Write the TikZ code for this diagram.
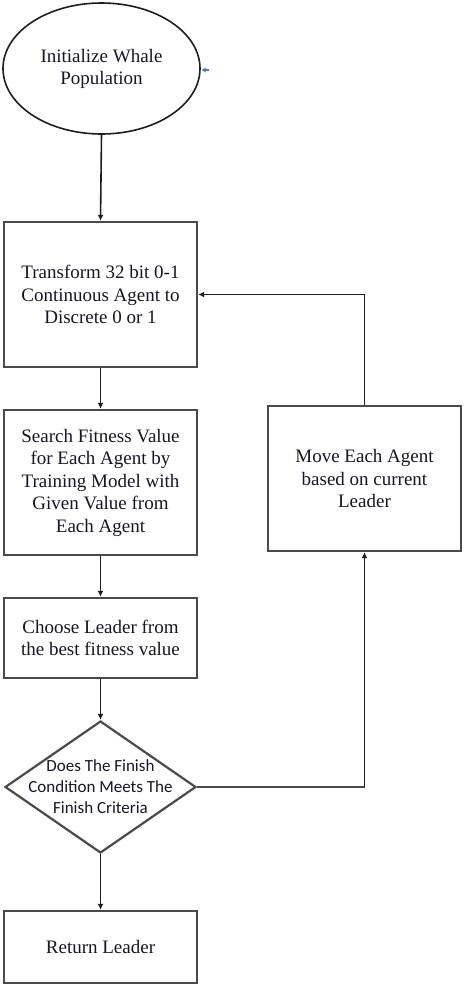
\documentclass[tikz,border=0pt]{standalone}
\usepackage{fontspec}
\setmainfont{Liberation Serif}
\newfontfamily\boxfont{Liberation Serif}
\newfontfamily\diafont{Carlito}
\usetikzlibrary{shapes.geometric,arrows.meta}
\definecolor{linegray}{HTML}{4A4A4A}
\definecolor{conn}{HTML}{1E1E1E}
\definecolor{txt}{HTML}{161628}
\definecolor{markblue}{HTML}{4A78C8}
\tikzset{
  box/.style={draw=linegray, line width=2.4pt, minimum width=193pt, align=center, inner sep=0pt, text=txt,
    font=\boxfont\fontsize{19}{22.5}\selectfont},
  arr/.style={draw=conn, line width=1.6pt, -{Latex[length=6pt,width=6pt]}},
}
\begin{document}
\begin{tikzpicture}[x=1pt,y=-1pt]
\useasboundingbox[fill=white] (0,0) rectangle (464,986);
\node[ellipse, draw=conn, line width=1.6pt, minimum width=197pt, minimum height=131pt, inner sep=0pt,
  align=center, text=txt, font=\boxfont\fontsize{19}{22}\selectfont] (init) at (101.5,68.5) {Initialize Whale\\Population};
\node[box, minimum height=145pt] (trans) at (100.5,294.5) {Transform 32 bit 0-1\\Continuous Agent to\\Discrete 0 or 1};
\node[box, minimum height=145pt] (search) at (100.5,482.5) {Search Fitness Value\\for Each Agent by\\Training Model with\\Given Value from\\Each Agent};
\node[box, minimum height=80pt] (choose) at (100.5,638) {Choose Leader from\\the best fitness value};
\node[diamond, draw=linegray, line width=2.2pt, minimum width=191pt, minimum height=132pt, inner sep=0pt] (dec) at (100.5,787) {};
\node[align=center, text=txt, font=\diafont\fontsize{17}{21}\selectfont] (dectext) at (dec.center) {Does The Finish\\Condition Meets The\\Finish Criteria};
\node[box, minimum height=72pt] (ret) at (100.5,947) {Return Leader};
\node[box, minimum height=145pt] (move) at (364.5,478.5) {Move Each Agent\\based on current\\Leader};
\draw[arr] (init.south) -- (trans.north);
\draw[arr] (trans.south) -- (search.north);
\draw[arr] (search.south) -- (choose.north);
\draw[arr] (choose.south) -- (dec.north);
\draw[arr] (dec.south) -- (ret.north);
\coordinate (corner) at (dec.east -| move.south);
\draw[draw=linegray, line width=2.4pt] (dec.east) -- (corner);
\draw[arr] (corner) -- (move.south);
\draw[arr] (move.north) |- (trans.east);
\coordinate (bm) at (209,70);
\coordinate (bt) at (201.5,70);
\draw[markblue, line width=1.4pt, -{Latex[length=4pt,width=5pt]}] (bm) -- (bt);
\end{tikzpicture}
\end{document}
